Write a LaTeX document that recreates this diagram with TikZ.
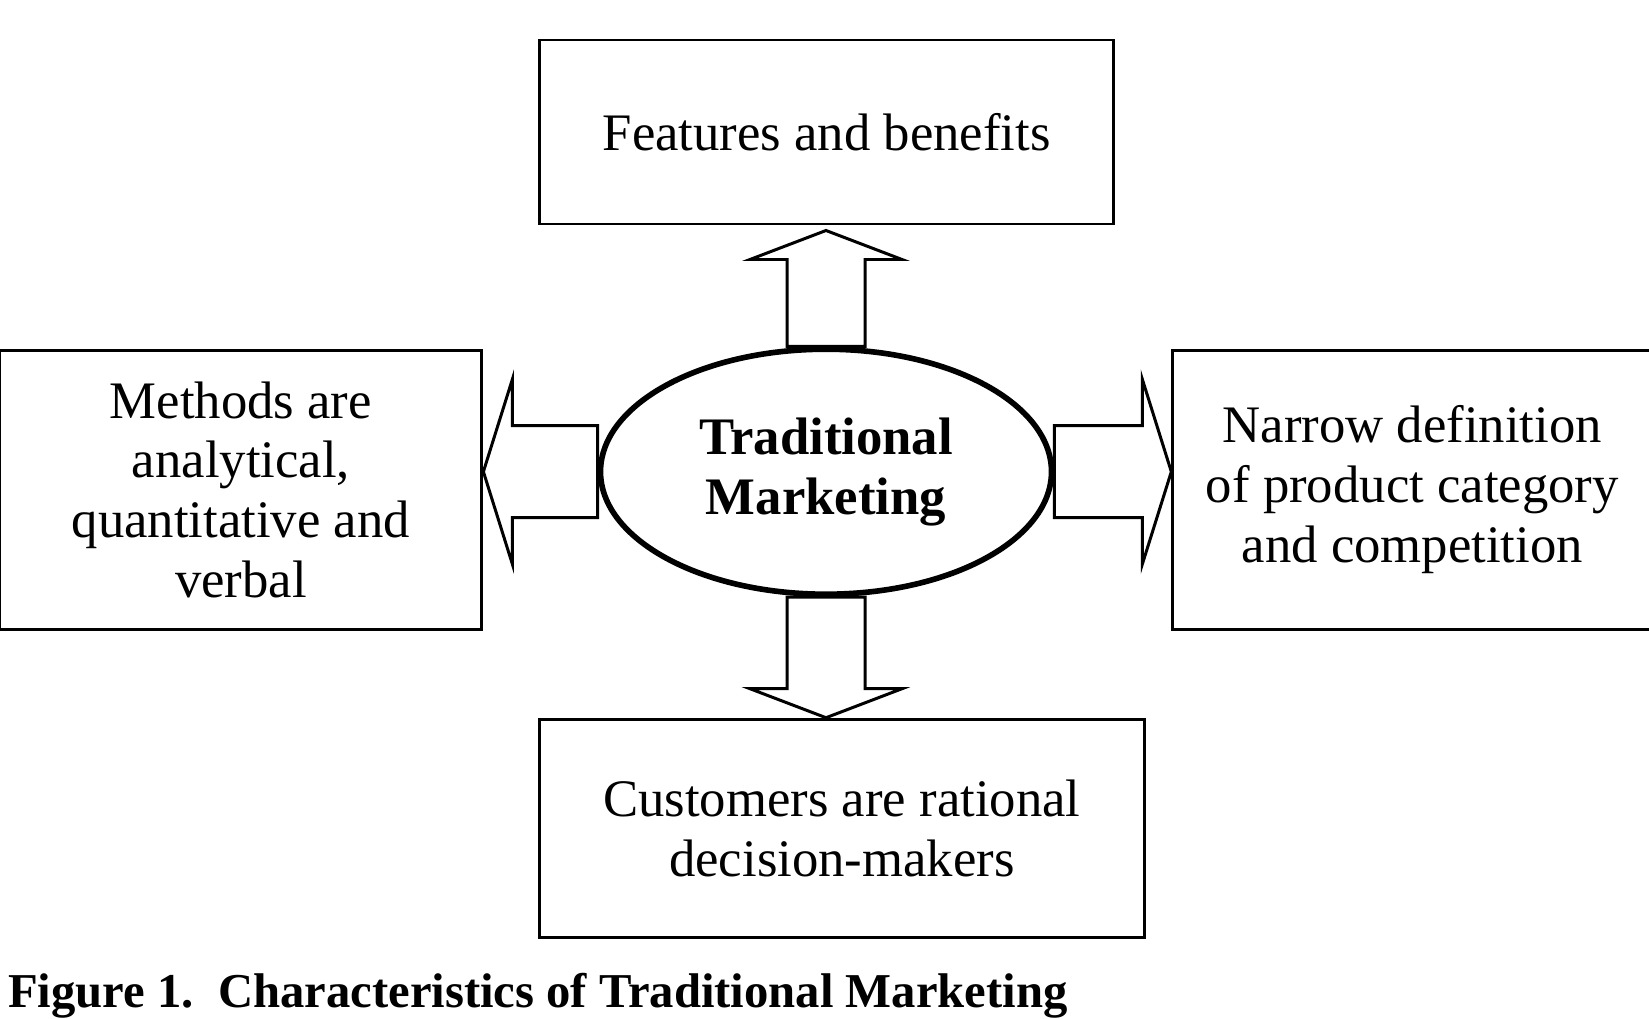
\documentclass[tikz,border=0pt]{standalone}
\usepackage{fontspec}
\setmainfont{Liberation Serif}
\usetikzlibrary{calc,shapes.geometric}
\newcommand\blockarrow[4]{% tail, tip, shaft half width, head half width
  \coordinate (ba) at ($(#2)!0.29cm!(#1)$);
  \draw[blk] ($(#1)!#3!90:(#2)$) -- ($(ba)!#3!90:(#2)$) -- ($(ba)!#4!90:(#2)$) -- (#2)
    -- ($(ba)!#4!-90:(#2)$) -- ($(ba)!#3!-90:(#2)$) -- ($(#1)!#3!-90:(#2)$) -- cycle;}

\begin{document}
\begin{tikzpicture}[
  box/.style={draw, line width=0.85pt, fill=white, inner sep=0pt, align=center,
              font=\fontsize{15}{17}\selectfont},
  hub/.style={ellipse, draw, line width=1.6pt, fill=white, inner sep=0pt, align=center,
              minimum width=4.51cm, minimum height=2.45cm, font=\fontsize{15}{17}\selectfont\bfseries},
  blk/.style={draw, line width=0.85pt, fill=white, line join=miter}]
\useasboundingbox (0,0) rectangle (16.49,10.18);
%% boxes
\node[box, minimum width=5.74cm, minimum height=1.84cm] (features) at (8.267,8.86) {Features and benefits};
\node[box, minimum width=4.82cm, minimum height=2.79cm] (methods) at (2.409,5.284)
  {Methods are\\ analytical,\\ quantitative and\\ verbal};
\node[box, minimum width=4.79cm, minimum height=2.79cm] (narrow) at (14.123,5.284)
  {Narrow definition\\ of product category\\ and competition};
\node[box, minimum width=6.05cm, minimum height=2.18cm] (customers) at (8.419,1.898)
  {Customers are rational\\ decision-makers};
%% centre
\node[hub] (tm) at (8.26,5.463) {Traditional\\ Marketing};
%% arrows
\coordinate (tipN) at ($(tm.center |- features.south)+(0,-0.05)$);
\coordinate (tipS) at (tm.center |- customers.north);
\coordinate (tipW) at (tm.center -| methods.east);
\coordinate (tipE) at (tm.center -| narrow.west);
\foreach \a/\t/\s/\w in {north/tipN/0.39cm/0.76cm, south/tipS/0.39cm/0.76cm,
                         west/tipW/0.46cm/0.925cm, east/tipE/0.46cm/0.925cm}
  \blockarrow{tm.\a}{\t}{\s}{\w};
%% caption
\node[anchor=base west, inner sep=0pt, font=\fontsize{13.85}{16}\selectfont\bfseries] (cap) at (0.074,0.105)
  {Figure 1.\ \ Characteristics of Traditional Marketing};
\end{tikzpicture}
\end{document}
